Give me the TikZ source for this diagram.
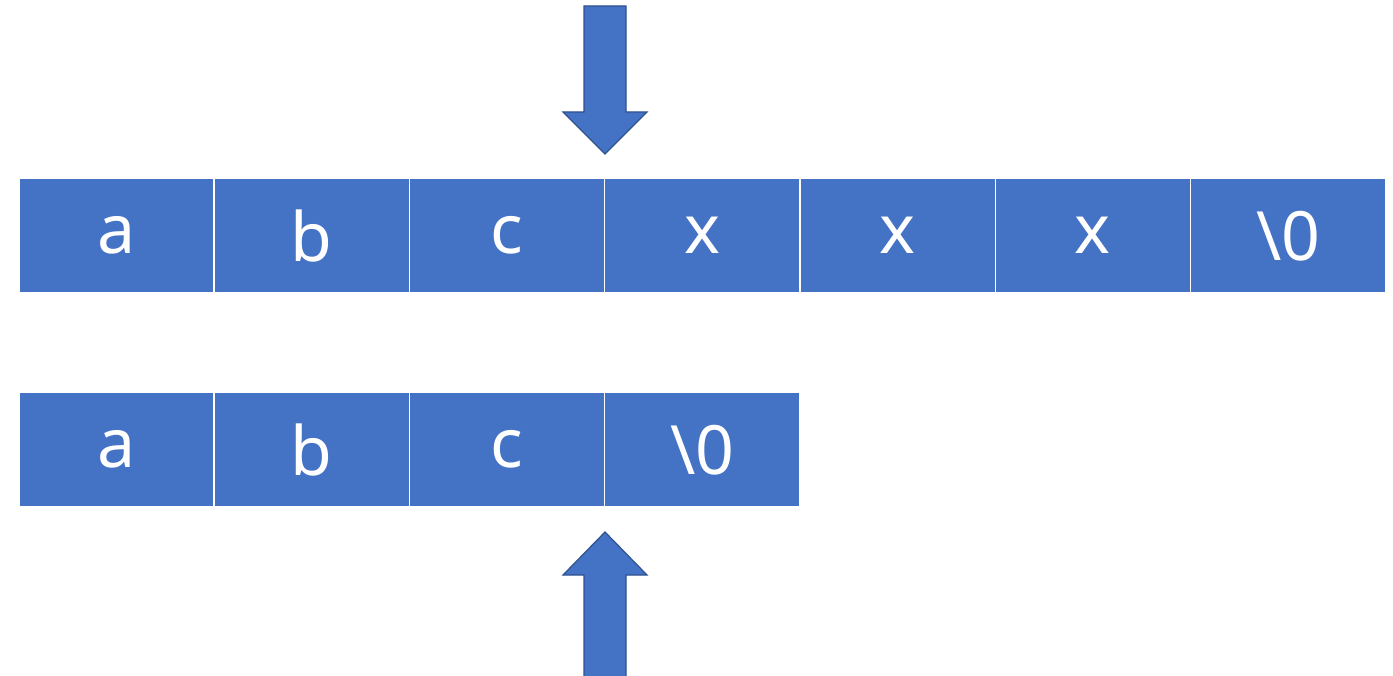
\documentclass[tikz,border=0pt]{standalone}
\usepackage{fontspec}
\setmainfont{Noto Sans}
\definecolor{cellblue}{HTML}{4472C4}
\definecolor{edgeblue}{HTML}{2F528F}
\begin{document}
\begin{tikzpicture}[x=1pt,y=-1pt,
  cell/.style={fill=cellblue,draw=white,line width=1.5pt,minimum width=195.3pt,minimum height=114pt,inner sep=0pt,anchor=north west,text=white,font=\fontsize{68}{72}\selectfont\bfseries},
  arrowshape/.style={fill=cellblue,draw=edgeblue,line width=1.2pt}]
\useasboundingbox (0,0) rectangle (1393,676);
\foreach \t [count=\i from 0] in {a,b,c,x,x,x,\textbackslash0}
  \node[cell] (t\i) at ({18+195.3*\i},178) {\t};
\foreach \t [count=\i from 0] in {a,b,c,\textbackslash0}
  \node[cell] (b\i) at ({18+195.3*\i},392) {\t};
\draw[arrowshape] (584,6) -- (626,6) -- (626,112) -- (647,112) -- (605,154) -- (563,112) -- (584,112) -- cycle;
\draw[arrowshape] (584,680) -- (584,575) -- (563,575) -- (605,532) -- (647,575) -- (626,575) -- (626,680);
\end{tikzpicture}
\end{document}
